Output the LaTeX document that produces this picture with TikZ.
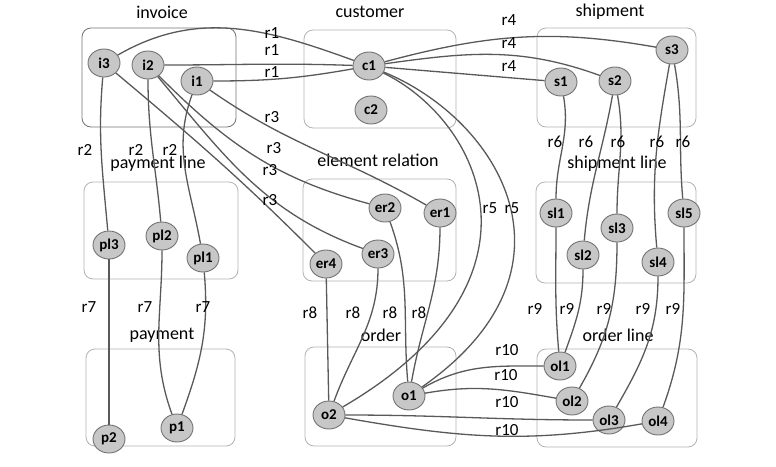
\documentclass[tikz,border=0pt]{standalone}
\usepackage{fontspec}
\setmainfont{Carlito}
\usetikzlibrary{shapes.geometric}
\begin{document}
\begin{tikzpicture}[x=1pt,y=-1pt,
 n/.style={ellipse,draw=black!55,fill=black!22,line width=0.9pt,minimum width=32pt,minimum height=28pt,inner sep=0pt,font=\bfseries\fontsize{15}{15}\selectfont},
 box/.style={draw=black!30,rounded corners=9pt,line width=0.8pt},
 ttl/.style={font=\fontsize{18}{18}\selectfont},
 lb/.style={font=\fontsize{17}{17}\selectfont,inner sep=1pt},
 e/.style={draw=black!65,line width=1.3pt}]
\useasboundingbox (0,0) rectangle (776,466);
\draw[box,draw=black!55] (82,28) rectangle (236,127);
\draw[box] (304,30) rectangle (456,128);
\draw[box] (537,28) rectangle (696,127);
\draw[box] (84,182) rectangle (238,279);
\draw[box] (303,179) rectangle (456,281);
\draw[box] (536,182) rectangle (696,283);
\draw[box] (86,349) rectangle (235,446);
\draw[box] (305,347) rectangle (456,446);
\draw[box] (537,349) rectangle (697,447);
\node[ttl] (t1) at (162,12) {invoice};
\node[ttl] (t2) at (370,12) {customer};
\node[ttl] (t3) at (610,12) {shipment};
\node[ttl] (t4) at (158,164) {payment line};
\node[ttl] (t5) at (378,160) {element relation};
\node[ttl] (t6) at (617,164) {shipment line};
\node[ttl] (t7) at (162,335) {payment};
\node[ttl] (t8) at (381,335) {order};
\node[ttl] (t9) at (618,335) {order line};
\node[n] (i3) at (104,63) {i3}; \node[n] (i2) at (148,65) {i2}; \node[n] (i1) at (197,81) {i1};
\node[n] (c1) at (369,66) {c1}; \node[n] (c2) at (371,110) {c2};
\node[n] (s1) at (561,82) {s1}; \node[n] (s2) at (615,81) {s2}; \node[n] (s3) at (672,50) {s3};
\node[n] (pl2) at (162,236) {pl2}; \node[n] (pl3) at (109,245) {pl3}; \node[n] (pl1) at (203,258) {pl1};
\node[n] (er2) at (385,208) {er2}; \node[n] (er1) at (440,213) {er1}; \node[n] (er3) at (378,254) {er3}; \node[n] (er4) at (326,264) {er4};
\node[n] (sl1) at (556,213) {sl1}; \node[n] (sl3) at (617,228) {sl3}; \node[n] (sl2) at (583,255) {sl2}; \node[n] (sl5) at (684,213) {sl5}; \node[n] (sl4) at (658,262) {sl4};
\node[n] (p2) at (109,439) {p2}; \node[n] (p1) at (177,428) {p1};
\node[n] (o1) at (409,396) {o1}; \node[n] (o2) at (329,415) {o2};
\node[n] (ol1) at (560,366) {ol1}; \node[n] (ol2) at (572,401) {ol2}; \node[n] (ol3) at (609,420) {ol3}; \node[n] (ol4) at (658,421) {ol4};
\path[e] (i3) to[out=30,in=160] (c1);
\path[e] (i2) to[out=0,in=178] (c1);
\path[e] (i1) to[out=0,in=190] (c1);
\path[e] (c1) to[out=15,in=170] (s3);
\path[e] (c1) to[out=8,in=160] (s2);
\path[e] (c1) -- (s1);
\path[e] (c1) .. controls (500,120) and (590,270) .. (o1);
\path[e] (c1) .. controls (480,120) and (560,280) .. (o2);
\path[e] (i3) to[out=-95,in=95] (pl3);
\path[e] (i2) to[out=-90,in=95] (pl2);
\path[e] (i1) to[out=-110,in=100] (pl1);
\path[e] (pl3) to[out=-90,in=90] (p2);
\path[e] (pl2) to[out=-90,in=110] (p1);
\path[e] (pl1) to[out=-85,in=70] (p1);
\path[e] (i3) to[out=-40,in=135] (er4);
\path[e] (i2) to[out=-50,in=160] (er3);
\path[e] (i2) to[out=-45,in=165] (er2);
\path[e] (i1) to[out=-35,in=150] (er1);
\path[e] (er4) -- (o2);
\path[e] (er3) to[out=-90,in=70] (o2);
\path[e] (er2) to[out=-70,in=95] (o1);
\path[e] (er1) to[out=-90,in=80] (o1);
\path[e] (s1) to[out=-80,in=90] (sl1);
\path[e] (s2) to[out=-100,in=85] (sl2);
\path[e] (s2) to[out=-80,in=90] (sl3);
\path[e] (s3) to[out=-100,in=95] (sl4);
\path[e] (s3) to[out=-80,in=95] (sl5);
\path[e] (sl1) to[out=-90,in=95] (ol1);
\path[e] (sl2) to[out=-90,in=70] (ol1);
\path[e] (sl3) to[out=-90,in=60] (ol2);
\path[e] (sl4) to[out=-90,in=60] (ol3);
\path[e] (sl5) to[out=-90,in=70] (ol4);
\path[e] (o1) to[out=30,in=180] (ol1);
\path[e] (o1) to[out=10,in=170] (ol2);
\path[e] (o2) to[out=0,in=180] (ol3);
\path[e] (o2) to[out=-10,in=190] (ol4);
\foreach \x/\y/\t in {272/33/r1,272/50/r1,272/72/r1,509/20/r4,509/43/r4,509/66/r4,
 85/150/r2,136/150/r2,170/150/r2,272/117/r3,274/148/r3,270/170/r3,270/200/r3,
 555/142/r6,586/142/r6,618/142/r6,657/142/r6,683/142/r6,490/208/r5,512/208/r5,
 89/307/r7,145/307/r7,203/307/r7,310/313/r8,353/313/r8,390/313/r8,419/313/r8,
 535/309/r9,567/309/r9,604/309/r9,643/309/r9,673/309/r9,
 507/350/r10,506/375/r10,507/402/r10,507/430/r10}
 \node[lb] at (\x,\y) {\t};
\end{tikzpicture}
\end{document}
